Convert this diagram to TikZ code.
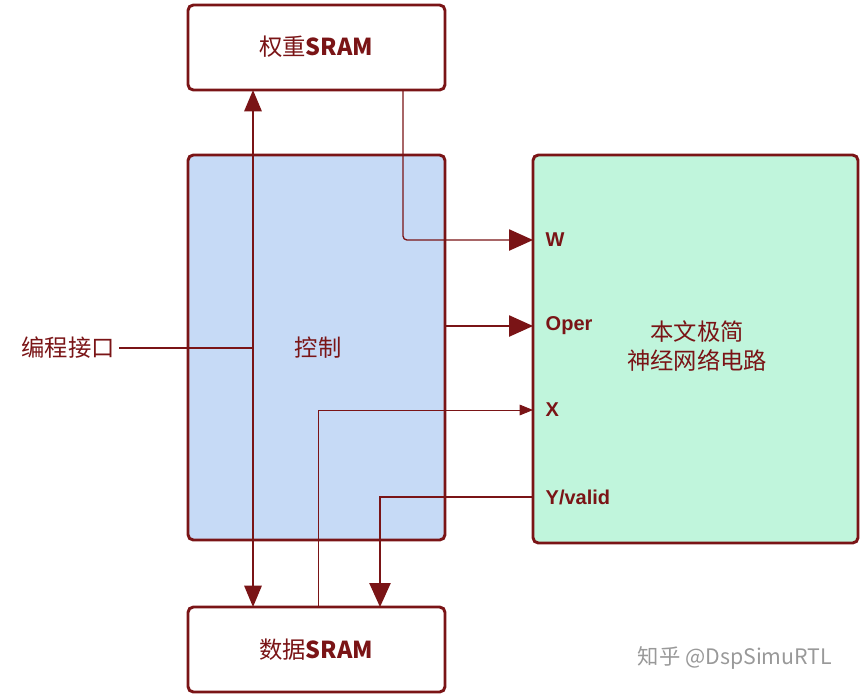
\documentclass[tikz,border=0pt]{standalone}
\usepackage{fontspec}
\setmainfont{Liberation Sans}
\newfontfamily\cjk{Noto Sans CJK SC}
\usetikzlibrary{arrows.meta}
\definecolor{wine}{HTML}{7A1416}
\definecolor{ctlblue}{HTML}{C6DAF6}
\definecolor{nnmint}{HTML}{C0F5DC}
\tikzset{
  blk/.style={draw=wine, line width=2.2pt, rounded corners=4pt, inner sep=0pt},
  lbl/.style={text=wine, font=\bfseries\fontsize{15}{15}\selectfont, anchor=west},
  cn/.style={text=wine, font=\cjk\fontsize{17.5}{22}\selectfont},
  wire/.style={draw=wine, line width=1pt},
  big/.style={-{Triangle[length=18pt,width=16pt]}},
}
\begin{document}
\begin{tikzpicture}[x=0.75pt, y=-0.75pt]
  \useasboundingbox (0,0) rectangle (862,697);
  % boxes
  \draw [blk, fill=white] (188,5) rectangle (445,90);
  \node (wsram) at (316,47) [cn] {权重\textbf{SRAM}};
  \draw [blk, fill=ctlblue] (188,155) rectangle (445,540);
  \node (ctl) at (318,348) [cn] {控制};
  \draw [blk, fill=nnmint] (533,155) rectangle (858,543);
  \node (nn) at (697,346) [cn, align=center] {本文极简\\神经网络电路};
  \draw [blk, fill=white] (188,607) rectangle (445,692);
  \node (dsram) at (316,650) [cn] {数据\textbf{SRAM}};
  % ports
  \coordinate (pw) at (533,240);
  \coordinate (po) at (533,326);
  \coordinate (px) at (533,410);
  \coordinate (py) at (533,497);
  \node at (pw) [lbl, xshift=6pt] {W};
  \node at (po) [lbl, xshift=6pt] {Oper};
  \node at (px) [lbl, xshift=6pt] {X};
  \node at (py) [lbl, xshift=6pt] {Y/valid};
  % programming bus
  \coordinate (bt) at (253,90);
  \coordinate (bb) at (253,607);
  \draw [wire, line width=1.5pt, {Triangle[length=16pt,width=13pt]}-{Triangle[length=16pt,width=13pt]}] (bt) -- (bb);
  \node (prog) at (68,348) [cn] {编程接口};
  \draw [wire] (prog.east) -- (253,348);
  % connectors
  \draw [wire, big, rounded corners=3pt] (403,90) |- (pw);
  \draw [wire, big] (445,326) -- (po);
  \draw [wire, line width=0.6pt, -{Triangle[length=10pt,width=8pt]}] (318,607) |- (px);
  \draw [wire, big] (py) -| (380,607);
  \node (mark) at (735,658) [text=gray!80, font=\cjk\fontsize{16}{16}\selectfont] {知乎 @DspSimuRTL};
\end{tikzpicture}
\end{document}
